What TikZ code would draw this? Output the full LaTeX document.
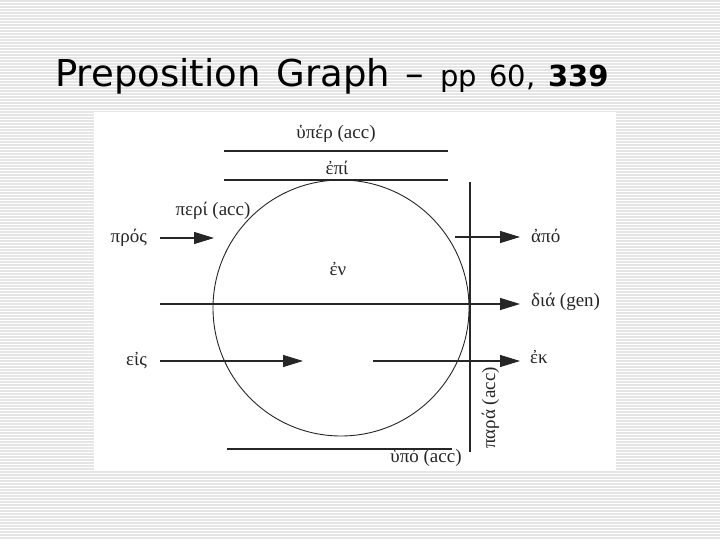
\documentclass[tikz,border=0pt]{standalone}
\usepackage{fontspec}
\setmainfont{Liberation Serif}
\newfontfamily\titlefont[WordSpace=1.35]{DejaVu Sans}
\usetikzlibrary{arrows.meta,
	positioning}

\begin{document}
\begin{tikzpicture}[x=1pt,y=-1pt,
		stripe/.style={draw=black!10,line width=1.2pt},
		rule/.style={draw=black!85,line width=1.1pt},
		arrow/.style={rule,-{Triangle[length=20pt,width=12pt]}},
		greek/.style={font=\fontsize{19}{22}\selectfont,inner sep=0pt,text=black!85}]
	\useasboundingbox (0,0) rectangle (720,540);
	\foreach \k in {0,...,179}
		\draw[stripe] (0,3*\k+1) -- (720,3*\k+1);
	\fill[white] (94,112) rectangle (616,470);
	\node[anchor=base west,inner sep=0pt] (title) at (55,87) {\titlefont\fontsize{37}{40}\selectfont Preposition Graph – \fontsize{29}{32}\selectfont pp 60, \textbf{339}};
	\node[circle,draw=black!85,line width=0.9pt,minimum size=256pt,inner sep=0pt] (ring) at (341,308) {};
	\node[greek,anchor=base] (hyper) at (336,139) {ὑπέρ (acc)};
	\node[greek,anchor=base] (epi) at (337,175) {ἐπί};
	\node[greek,anchor=base] (peri) at (213,215) {περί (acc)};
	\node[greek,anchor=base east] (pros) at (147,242) {πρός};
	\node[greek,anchor=base] (en) at (338,275) {ἐν};
	\node[greek,anchor=base west] (apo) at (531,242) {ἀπό};
	\node[greek,anchor=base west] (dia) at (531,306) {διά (gen)};
	\node[greek,anchor=base east] (eis) at (147,365) {εἰς};
	\node[greek,anchor=base west] (ek) at (530,363) {ἐκ};
	\node[greek,anchor=base] (hypo) at (426,462) {ὑπό (acc)};
	\node[greek,rotate=90,anchor=base] (para) at (495,408) {παρά (acc)};
	\draw[rule] (224,151) -- (448,151);
	\draw[rule] (224,180) -- (448,180);
	\draw[rule] (227,449) -- (452,449);
	\draw[rule] (470,182) -- (470,452);
	\coordinate (pros-a) at (160,238);
	\coordinate (pros-b) at (214,238);
	\coordinate (apo-a) at (455,237);
	\coordinate (apo-b) at (520,237);
	\coordinate (dia-a) at (160,304);
	\coordinate (dia-b) at (520,304);
	\coordinate (eis-a) at (160,361);
	\coordinate (eis-b) at (303,361);
	\coordinate (ek-a) at (373,361);
	\coordinate (ek-b) at (520,361);
	\draw[arrow] (pros-a) -- (pros-b);
	\draw[arrow] (apo-a) -- (apo-b);
	\draw[arrow] (dia-a) -- (dia-b);
	\draw[arrow] (eis-a) -- (eis-b);
	\draw[arrow] (ek-a) -- (ek-b);
\end{tikzpicture}
\end{document}
